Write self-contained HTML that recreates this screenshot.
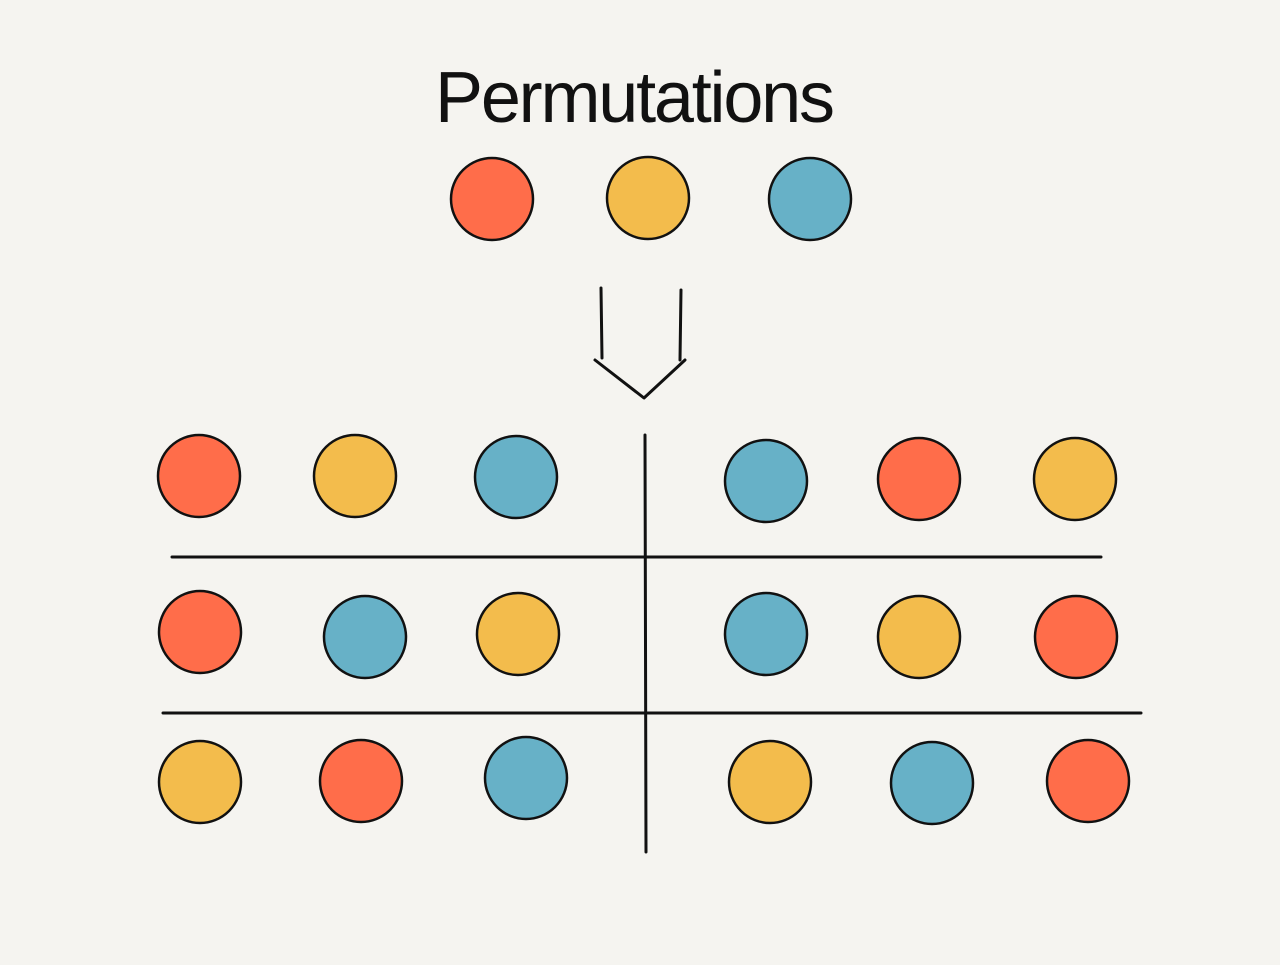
<!DOCTYPE html>
<html><head><style>html,body{margin:0;padding:0;background:#f5f4f0;}</style></head>
<body>
<svg width="1280" height="960" viewBox="0 0 1280 960" xmlns="http://www.w3.org/2000/svg">
<rect width="1280" height="960" fill="#f5f4f0"/>
<text x="435" y="122" font-family="Liberation Sans, sans-serif" font-size="72" textLength="400" lengthAdjust="spacing" fill="#111">Permutations</text>
<g stroke="#111" stroke-width="3" fill="none" stroke-linecap="round" stroke-linejoin="round">
<path d="M601 288 L602 358"/>
<path d="M681 290 L680 360"/>
<path d="M595 360 L644 398 L685 360"/>
<path d="M645 435 L646 852"/>
<path d="M172 557 L1101 557"/>
<path d="M163 713 L1141 713"/>
</g>
<g stroke="#111" stroke-width="2.5">
<circle cx="492" cy="199" r="41" fill="#ff6d4a"/>
<circle cx="648" cy="198" r="41" fill="#f3bc4c"/>
<circle cx="810" cy="199" r="41" fill="#67b1c7"/>

<circle cx="199" cy="476" r="41" fill="#ff6d4a"/>
<circle cx="355" cy="476" r="41" fill="#f3bc4c"/>
<circle cx="516" cy="477" r="41" fill="#67b1c7"/>
<circle cx="766" cy="481" r="41" fill="#67b1c7"/>
<circle cx="919" cy="479" r="41" fill="#ff6d4a"/>
<circle cx="1075" cy="479" r="41" fill="#f3bc4c"/>

<circle cx="200" cy="632" r="41" fill="#ff6d4a"/>
<circle cx="365" cy="637" r="41" fill="#67b1c7"/>
<circle cx="518" cy="634" r="41" fill="#f3bc4c"/>
<circle cx="766" cy="634" r="41" fill="#67b1c7"/>
<circle cx="919" cy="637" r="41" fill="#f3bc4c"/>
<circle cx="1076" cy="637" r="41" fill="#ff6d4a"/>

<circle cx="200" cy="782" r="41" fill="#f3bc4c"/>
<circle cx="361" cy="781" r="41" fill="#ff6d4a"/>
<circle cx="526" cy="778" r="41" fill="#67b1c7"/>
<circle cx="770" cy="782" r="41" fill="#f3bc4c"/>
<circle cx="932" cy="783" r="41" fill="#67b1c7"/>
<circle cx="1088" cy="781" r="41" fill="#ff6d4a"/>
</g>
</svg>
</body></html>
